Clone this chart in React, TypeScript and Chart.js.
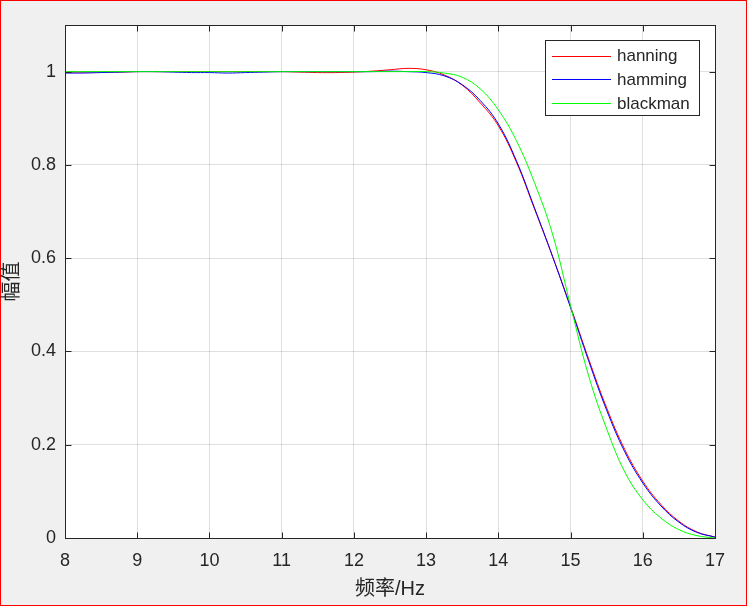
import React, { useEffect, useRef } from "react";
import { Chart, registerables } from "chart.js";

Chart.register(...registerables);

// ---- data ----
const freqHz = [
  8, 8.25, 8.5, 8.75, 9, 9.25, 9.5, 9.75, 10, 10.25, 10.5, 10.75, 11, 11.25, 11.5, 11.75,
  12, 12.25, 12.5, 12.75, 13, 13.25, 13.5, 13.75, 14, 14.25, 14.5, 14.75, 15, 15.25, 15.5,
  15.75, 16, 16.25, 16.5, 16.75, 17,
];
const hanning = [
  0.999, 0.999, 0.999, 0.999, 1.0, 1.0, 1.0, 1.0, 1.0, 1.0, 1.0, 1.0, 1.0, 0.999, 0.998, 0.998,
  0.999, 1.001, 1.004, 1.007, 1.004, 0.993, 0.971, 0.933, 0.884, 0.806, 0.706, 0.604, 0.496, 0.384, 0.279,
  0.19, 0.122, 0.072, 0.036, 0.013, 0.002,
];
const hamming = [
  0.997, 0.997, 0.998, 0.999, 1.0, 1.0, 0.999, 0.998, 0.998, 0.997, 0.998, 0.999, 1.0, 1.0, 1.0, 1.0,
  1.0, 1.0, 1.001, 1.0, 0.998, 0.991, 0.972, 0.938, 0.888, 0.809, 0.708, 0.604, 0.494, 0.38, 0.274,
  0.185, 0.118, 0.069, 0.034, 0.012, 0.002,
];
const blackman = [
  1.0, 1.0, 1.0, 1.0, 1.0, 1.0, 1.0, 1.0, 1.0, 1.0, 1.0, 1.0, 1.0, 1.0, 1.0, 1.0,
  1.0, 1.0, 1.0, 1.0, 1.0, 0.997, 0.988, 0.963, 0.918, 0.852, 0.762, 0.652, 0.498, 0.348, 0.234,
  0.142, 0.082, 0.043, 0.018, 0.005, 0.0,
];
const seriesNames = ["hanning", "hamming", "blackman"];
const seriesColors = ["#ff0000", "#0000ff", "#00ff00"];
const xTicks = [8, 9, 10, 11, 12, 13, 14, 15, 16, 17];
const yTicks = [0, 0.2, 0.4, 0.6, 0.8, 1];
const xLabel = "频率/Hz";
const yLabel = "幅值";

const AXIS = "#262626";
const GRID = "rgba(38,38,38,0.15)";
const FONT = '"Liberation Sans", Arial, "Noto Sans CJK SC", sans-serif';

const framePlugin = {
  id: "matlabFrame",
  beforeDraw(chart: any) {
    const { ctx, width, height, chartArea: ca } = chart;
    ctx.save();
    ctx.fillStyle = "#ffffff";
    ctx.fillRect(0, 0, width, height);
    ctx.fillStyle = "#f0f0f0";
    ctx.fillRect(0, 0, 747, 606);
    ctx.strokeStyle = "#ff0000";
    ctx.lineWidth = 1;
    ctx.strokeRect(0.5, 0.5, 746, 605);
    ctx.fillStyle = "#ffffff";
    ctx.fillRect(ca.left, ca.top, ca.right - ca.left, ca.bottom - ca.top);
    ctx.restore();
  },
  afterDatasetsDraw(chart: any) {
    const { ctx, chartArea: ca, scales } = chart;
    const xs = scales.x;
    const ys = scales.y;
    const L = Math.round(ca.left) + 0.5;
    const R = Math.round(ca.right) + 0.5;
    const T = Math.round(ca.top) + 0.5;
    const B = Math.round(ca.bottom) + 0.5;
    ctx.save();
    ctx.strokeStyle = AXIS;
    ctx.lineWidth = 1;
    ctx.strokeRect(L, T, R - L, B - T);
    const tl = 6;
    ctx.beginPath();
    xTicks.forEach((v) => {
      const px = Math.round(xs.getPixelForValue(v)) + 0.5;
      ctx.moveTo(px, B);
      ctx.lineTo(px, B - tl);
      ctx.moveTo(px, T);
      ctx.lineTo(px, T + tl);
    });
    yTicks.forEach((v) => {
      const py = Math.round(ys.getPixelForValue(v)) + 0.5;
      ctx.moveTo(L, py);
      ctx.lineTo(L + tl, py);
      ctx.moveTo(R, py);
      ctx.lineTo(R - tl, py);
    });
    ctx.stroke();

    // legend
    const bx = 545.5, by = 40.5, bw = 154, bh = 75;
    ctx.fillStyle = "#ffffff";
    ctx.fillRect(bx, by, bw, bh);
    ctx.strokeStyle = AXIS;
    ctx.strokeRect(bx, by, bw, bh);
    ctx.font = `17px ${FONT}`;
    ctx.textBaseline = "middle";
    ctx.textAlign = "left";
    chart.data.datasets.forEach((ds: any, i: number) => {
      const cy = 55.5 + i * 23.7;
      const ly = Math.round(cy) + 0.5;
      ctx.strokeStyle = ds.borderColor;
      ctx.beginPath();
      ctx.moveTo(552, ly);
      ctx.lineTo(611, ly);
      ctx.stroke();
      ctx.fillStyle = AXIS;
      ctx.fillText(ds.label, 617, cy + 1);
    });
    ctx.restore();
  },
};

export default function App() {
  const ref = useRef<HTMLCanvasElement | null>(null);
  useEffect(() => {
    document.body.style.margin = "0";
    const canvas = ref.current;
    if (!canvas) return;
    const series = [hanning, hamming, blackman];
    const chart = new Chart(canvas, {
      type: "line",
      data: {
        datasets: series.map((vals, i) => ({
          label: seriesNames[i],
          data: freqHz.map((f, j) => ({ x: f, y: vals[j] })),
          borderColor: seriesColors[i],
          backgroundColor: seriesColors[i],
          borderWidth: 1,
          pointRadius: 0,
          fill: false,
          tension: 0.4,
          order: 3 - i,
        })),
      },
      options: {
        animation: false,
        responsive: false,
        maintainAspectRatio: false,
        layout: { padding: { left: 0, top: 25, right: 33, bottom: 0 } },
        plugins: { legend: { display: false }, tooltip: { enabled: false } },
        scales: {
          x: {
            type: "linear",
            min: 8,
            max: 17,
            afterBuildTicks: (s: any) => {
              s.ticks = xTicks.map((v) => ({ value: v }));
            },
            afterFit: (s: any) => {
              s.height = 69;
            },
            grid: { color: GRID, drawTicks: false, lineWidth: 1 },
            border: { display: true, color: AXIS, width: 1 },
            ticks: {
              color: AXIS,
              font: { family: FONT, size: 18 },
              padding: 12,
              maxRotation: 0,
              autoSkip: false,
              callback: (v: any) => String(v),
            },
            title: {
              display: true,
              text: xLabel,
              color: AXIS,
              font: { family: FONT, size: 20 },
              padding: { top: 0, bottom: 6 },
            },
          },
          y: {
            type: "linear",
            min: 0,
            max: 1.1,
            afterBuildTicks: (s: any) => {
              s.ticks = yTicks.map((v) => ({ value: v }));
            },
            afterFit: (s: any) => {
              s.width = 65;
            },
            grid: { color: GRID, drawTicks: false, lineWidth: 1 },
            border: { display: true, color: AXIS, width: 1 },
            ticks: {
              color: AXIS,
              font: { family: FONT, size: 18 },
              padding: 9,
              autoSkip: false,
              callback: (v: any) => String(Math.round(v * 10) / 10),
            },
            title: {
              display: true,
              text: yLabel,
              color: AXIS,
              font: { family: FONT, size: 20 },
              padding: { top: 0, bottom: 0 },
            },
          },
        },
      },
      plugins: [framePlugin],
    } as any);
    return () => chart.destroy();
  }, []);
  return <canvas ref={ref} width={748} height={607} style={{ display: "block" }} />;
}
